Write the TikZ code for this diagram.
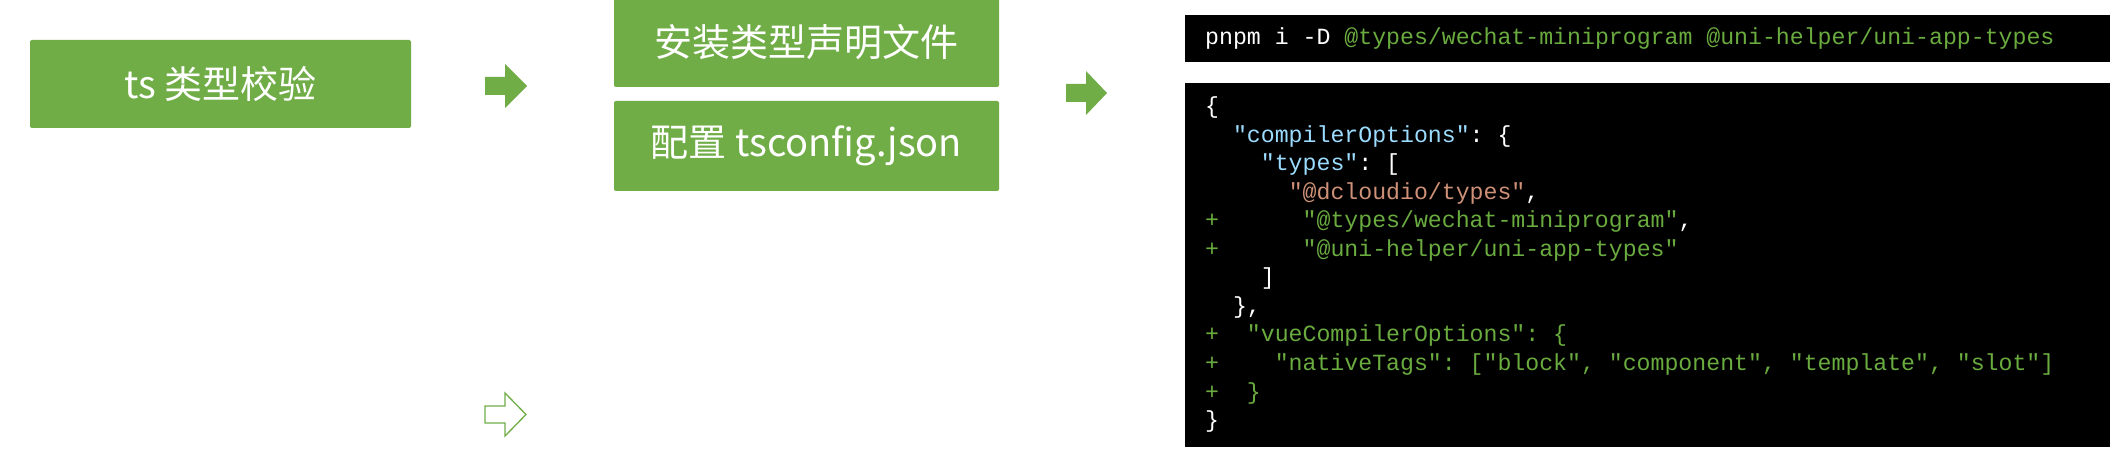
\documentclass[tikz,border=0pt]{standalone}
\usepackage{fontspec}
\newfontfamily\cjk{Noto Sans CJK SC}
\setmonofont{Liberation Mono}
\definecolor{gbox}{HTML}{70AD47}
\definecolor{ckey}{HTML}{9CDCFE}
\definecolor{cstr}{HTML}{CE9178}
\definecolor{cgrn}{HTML}{6AAB3F}
\begin{document}
\begin{tikzpicture}[x=1pt,y=-1pt,
  gb/.style={fill=gbox,draw=none,rounded corners=2pt},
  bt/.style={text=white,font=\cjk\fontsize{38}{42}\selectfont},
  cl/.style={anchor=west,inner sep=0pt,font=\ttfamily\fontsize{23.2}{28}\selectfont,text=white},
  arr/.style={fill=gbox,draw=none}]
\useasboundingbox (0,0) rectangle (2116,462);
\fill[white] (0,0) rectangle (2116,462);
% boxes
\fill[gb] (30,40) rectangle (411,128);
\node[bt] (b1) at (220.5,84) {ts 类型校验};
\fill[gb] (614,-3) rectangle (999,87);
\node[bt] (b2) at (806.5,42) {安装类型声明文件};
\fill[gb] (614,101) rectangle (999,191);
\node[bt] (b3) at (806.5,146) {配置 tsconfig.json};
% arrows
\fill[arr] (485,77)--(505,77)--(505,64)--(527,86)--(505,108)--(505,95)--(485,95)--cycle;
\fill[arr] (1066,84)--(1086,84)--(1086,71)--(1107,93)--(1086,115)--(1086,102)--(1066,102)--cycle;
\draw[draw=gbox,line width=1.3pt] (485,406)--(505,406)--(505,393)--(526,414.5)--(505,436)--(505,423)--(485,423)--cycle;
% command box
\fill[black] (1185,15) rectangle (2110,62);
\node[cl] (cmd) at (1205,39) {pnpm i -D \textcolor{cgrn}{@types/wechat-miniprogram @uni-helper/uni-app-types}};
% code box
\fill[black] (1185,83) rectangle (2110,447);
\def\ly#1{108+28.5*#1}
\node[cl] (l0) at (1205,{\ly{0}}) {\{};
\node[cl] (l1) at (1205,{\ly{1}}) {\ \ \textcolor{ckey}{"compilerOptions"}: \{};
\node[cl] (l2) at (1205,{\ly{2}}) {\ \ \ \ \textcolor{ckey}{"types"}: [};
\node[cl] (l3) at (1205,{\ly{3}}) {\ \ \ \ \ \ \textcolor{cstr}{"@dcloudio/types"},};
\node[cl] (l4) at (1205,{\ly{4}}) {\textcolor{cgrn}{+\ \ \ \ \ \ "@types/wechat-miniprogram"},};
\node[cl] (l5) at (1205,{\ly{5}}) {\textcolor{cgrn}{+\ \ \ \ \ \ "@uni-helper/uni-app-types"}};
\node[cl] (l6) at (1205,{\ly{6}}) {\ \ \ \ ]};
\node[cl] (l7) at (1205,{\ly{7}}) {\ \ \},};
\node[cl] (l8) at (1205,{\ly{8}}) {\textcolor{cgrn}{+\ \ "vueCompilerOptions": \{}};
\node[cl] (l9) at (1205,{\ly{9}}) {\textcolor{cgrn}{+\ \ \ \ "nativeTags": ["block", "component", "template", "slot"]}};
\node[cl] (l10) at (1205,{\ly{10}}) {\textcolor{cgrn}{+\ \ \}}};
\node[cl] (l11) at (1205,{\ly{11}}) {\}};
\end{tikzpicture}
\end{document}
